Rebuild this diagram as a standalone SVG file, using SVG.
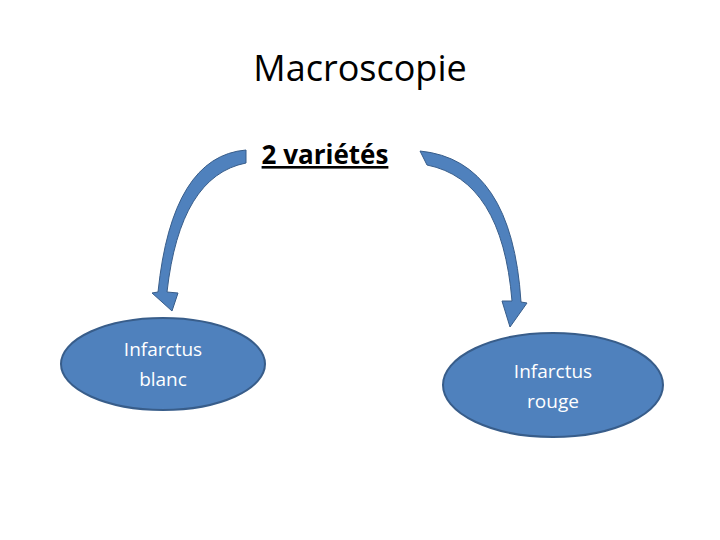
<svg xmlns="http://www.w3.org/2000/svg" width="720" height="540" viewBox="0 0 720 540">
<style>
.n{fill:#4F81BD;stroke:#385D8A;stroke-width:2}
.a{fill:#4F81BD;stroke:#385D8A;stroke-width:1}
.t{font-family:"Open Sans","Liberation Sans",sans-serif;fill:#fff;font-size:19px;text-anchor:middle}
</style>
<rect width="720" height="540" fill="#fff"/>
<text x="360" y="81" font-family="Open Sans, Liberation Sans, sans-serif" font-size="36" text-anchor="middle" fill="#000">Macroscopie</text>
<text x="325" y="164" font-family="Open Sans, Liberation Sans, sans-serif" font-size="26" font-weight="bold" text-anchor="middle" fill="#000" text-decoration="underline">2 variétés</text>
<g id="connectors">
<path class="a" d="M246,150 Q172,156 158,292 L152,293 L172,311 L178,293 L167,292 Q180,176 246,163 Z"/>
<path class="a" d="M420,151 Q512,160 521,302 L527,303 L510,327 L502,301 L512,301 Q502,180 427,165 Z"/>
</g>
<g id="blanc"><ellipse class="n" cx="163" cy="364" rx="102" ry="46"/><text class="t" x="163" y="356">Infarctus</text><text class="t" x="163" y="386">blanc</text></g>
<g id="rouge"><ellipse class="n" cx="553" cy="385" rx="110" ry="52"/><text class="t" x="553" y="378">Infarctus</text><text class="t" x="553" y="408">rouge</text></g>
</svg>
